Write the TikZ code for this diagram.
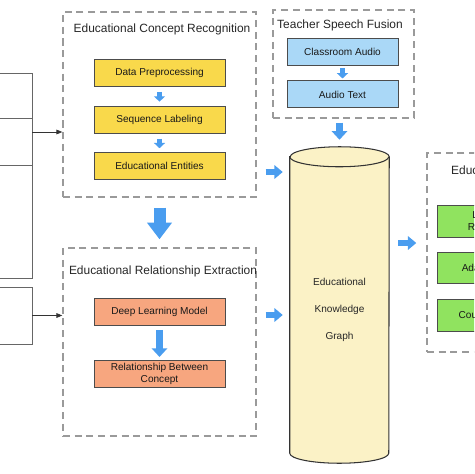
\documentclass[tikz,border=0pt]{standalone}
\usepackage{fontspec}
\setmainfont{Liberation Sans}
\usetikzlibrary{arrows.meta,positioning}

\definecolor{conceptyellow}{HTML}{F9D94B}
\definecolor{relorange}{HTML}{F7A67F}
\definecolor{speechblue}{HTML}{AAD8F7}
\definecolor{appgreen}{HTML}{90E35F}
\definecolor{arrowblue}{HTML}{4A9DEF}
\definecolor{graphcream}{HTML}{FBF2C6}
\definecolor{framegray}{HTML}{9A9A9A}

\begin{document}
\begin{tikzpicture}[x=0.03cm, y=-0.03cm,
  frame/.style={rectangle, draw=framegray, line width=1.2pt, dash pattern=on 6pt off 4pt, inner sep=0pt},
  title/.style={font=\fontsize{10.2}{12}\selectfont, text=black!85},
  box/.style={rectangle, draw=black!70, line width=0.8pt, minimum width=3.93cm, minimum height=0.81cm, align=center, font=\fontsize{8.6}{11}\selectfont, text=black!90, inner sep=1pt},
  src/.style={rectangle, draw=black!60, line width=0.7pt, minimum width=1.86cm, inner sep=0pt},
  smallarrow/.style={draw=arrowblue, line width=0.13cm, -{Triangle[width=0.33cm, length=0.16cm]}},
  midarrow/.style={draw=arrowblue, line width=0.19cm, -{Triangle[width=0.46cm, length=0.26cm]}},
  harrow/.style={draw=arrowblue, line width=0.17cm, -{Triangle[width=0.4cm, length=0.25cm]}},
  bigarrow/.style={draw=arrowblue, line width=0.36cm, -{Triangle[width=0.72cm, length=0.5cm]}},
  thinarrow/.style={draw=black!80, line width=0.6pt, -{Triangle[width=4pt, length=5pt]}}]
  \useasboundingbox (0,0) rectangle (474,474);
  \clip (0,0) rectangle (474,474);

  % sources on the left (cut off)
  \node[src, minimum height=1.35cm] (src1) at (1,95.5) {};
  \node[src, minimum height=1.41cm] (src2) at (1,141.5) {};
  \node[src, minimum height=3.39cm] (src3) at (1,221.5) {};
  \node[src, minimum height=1.71cm] (src4) at (1,315.5) {};

  % concept recognition
  \node[frame, minimum width=5.79cm, minimum height=5.55cm] (ecr) at (159.5,104.5) {};
  \node[title] (ecrtitle) at (162,29) {Educational Concept Recognition};
  \node[box, fill=conceptyellow] (prep) at (159.5,73) {Data Preprocessing};
  \node[box, fill=conceptyellow, below=0.56cm of prep] (seq) {Sequence Labeling};
  \node[box, fill=conceptyellow, below=0.56cm of seq] (ent) {Educational Entities};

  % relationship extraction
  \node[frame, minimum width=5.79cm, minimum height=5.64cm] (ere) at (159.5,342) {};
  \node[title] (eretitle) at (163,271) {Educational Relationship Extraction};
  \node[box, fill=relorange] (dlm) at (159.5,312) {Deep Learning Model};
  \node[box, fill=relorange, below=1.02cm of dlm, font=\fontsize{8.6}{10.5}\selectfont] (rbc) {Relationship Between\\Concept};

  % teacher speech
  \node[frame, minimum width=4.23cm, minimum height=3.24cm] (tsf) at (343.5,64) {};
  \node[title] (tsftitle) at (340,25) {Teacher Speech Fusion};
  \node[box, fill=speechblue, minimum width=3.33cm] (audio) at (342.5,51.5) {Classroom Audio};
  \node[box, fill=speechblue, minimum width=3.33cm, below=0.45cm of audio] (atext) {Audio Text};

  % knowledge graph
  \node[minimum width=2.97cm, minimum height=9.48cm, inner sep=0pt] (kg) at (339.5,305) {};
  \path[draw=black!80, line width=0.9pt, fill=graphcream]
    ([yshift=-0.3cm]kg.north west) -- ([yshift=0.3cm]kg.south west)
    arc[start angle=180, end angle=360, x radius=1.485cm, y radius=0.3cm]
    -- ([yshift=-0.3cm]kg.north east)
    arc[start angle=0, end angle=180, x radius=1.485cm, y radius=0.3cm] -- cycle;
  \draw[black!80, line width=0.9pt] ([yshift=-0.3cm]kg.north west)
    arc[start angle=180, end angle=360, x radius=1.485cm, y radius=0.3cm];
  \node[font=\fontsize{8.6}{23}\selectfont, align=center, text=black!85] (kgtext) at (339.5,310) {Educational\\Knowledge\\Graph};

  % applications (cut off)
  \node[frame, minimum width=3.9cm, minimum height=5.97cm] (app) at (492,252.5) {};
  \node[title, anchor=west] (apptitle) at (447,171) {Educational Applications};
  \node[box, fill=appgreen, minimum width=3.3cm, minimum height=0.96cm, font=\fontsize{8.6}{10.5}\selectfont] (res) at (492,221) {Learning\\Resources};
  \node[box, fill=appgreen, minimum width=3.3cm, minimum height=0.93cm, below=0.45cm of res] (adapt) {Adaptive Test};
  \node[box, fill=appgreen, minimum width=3.3cm, minimum height=0.96cm, below=0.45cm of adapt] (course) {Course Design};

  \draw[thinarrow] ([yshift=0.285cm]src2.east) -- ([yshift=0.285cm]src2.east -| ecr.west);
  \draw[thinarrow] (src4.east) -- (src4.east -| ere.west);

  \draw[smallarrow, shorten <=0.15cm, shorten >=0.12cm] (prep) -- (seq);
  \draw[smallarrow, shorten <=0.15cm, shorten >=0.12cm] (seq) -- (ent);
  \draw[smallarrow, shorten <=0.09cm, shorten >=0.06cm] (audio) -- (atext);
  \draw[midarrow, shorten <=0.12cm, shorten >=0.09cm] (dlm) -- (rbc);
  \draw[bigarrow, shorten <=0.3cm, shorten >=0.24cm] (ecr) -- (ere);
  \draw[midarrow, shorten <=0.12cm, shorten >=0.21cm] (kg |- tsf.south) -- (kg.north);
  \draw[harrow, shorten <=0.27cm, shorten >=0.21cm] ([yshift=-2.025cm]ecr.east) -- ([yshift=-2.025cm]ecr.east -| kg.west);
  \draw[harrow, shorten <=0.27cm, shorten >=0.21cm] ([yshift=0.81cm]ere.east) -- ([yshift=0.81cm]ere.east -| kg.west);
  \draw[harrow, shorten <=0.27cm, shorten >=0.3cm] ([yshift=0.285cm]app.west -| kg.east) -- ([yshift=0.285cm]app.west);
\end{tikzpicture}
\end{document}
